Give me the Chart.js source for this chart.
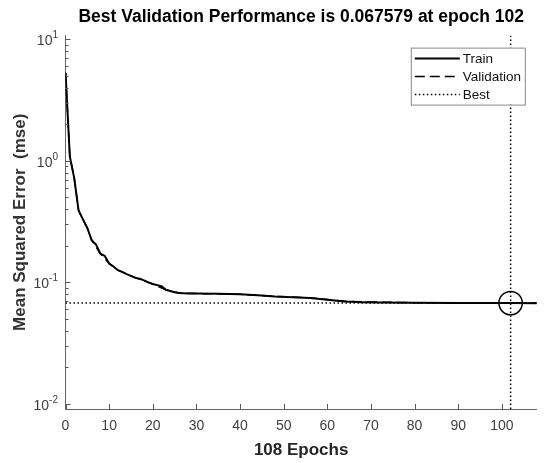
<!DOCTYPE html>
<html>
<head>
<meta charset="utf-8">
<script src="https://cdn.jsdelivr.net/npm/chart.js@4.4.0/dist/chart.umd.min.js"></script>
<style>
  html, body { margin: 0; padding: 0; background: #fff; }
  #wrap { width: 550px; height: 463px; }
</style>
</head>
<body>
<div id="wrap"><canvas id="perf"></canvas></div>
<script>
// values
const trainEpochs = [0, 1, 2, 3, 4, 5, 6, 7, 8, 9, 10, 11, 12, 13, 14, 15, 16, 17, 18, 19, 20,
    21, 22, 23, 24, 25, 26, 28, 30, 35, 40, 44, 48, 52, 56, 60, 64, 68, 72, 80, 90, 100, 102, 108];
const trainMse = [5.3, 1.08, 0.72, 0.39, 0.33, 0.28, 0.222, 0.205, 0.172, 0.165, 0.143, 0.135, 0.126,
    0.122, 0.117, 0.113, 0.109, 0.107, 0.104, 0.1, 0.097, 0.095, 0.093, 0.087, 0.085, 0.083, 0.0818,
    0.0812, 0.081, 0.0805, 0.0798, 0.0785, 0.0765, 0.0755, 0.0745, 0.072, 0.0697, 0.0688, 0.0683,
    0.0679, 0.0677, 0.0676, 0.06758, 0.0675];
const valEpochs = [0, 1, 2, 3, 4, 5, 6, 8, 10, 12, 15, 20, 23, 26, 30, 40, 48, 56, 60, 64, 70, 80,
    90, 100, 102, 108];
const valMse = [5.3, 1.08, 0.72, 0.39, 0.33, 0.28, 0.222, 0.172, 0.143, 0.126, 0.113, 0.097, 0.087,
    0.0818, 0.081, 0.0798, 0.0768, 0.0748, 0.0724, 0.0701, 0.069, 0.0681, 0.0679, 0.0677, 0.067579, 0.0677];
const bestEpoch = 102;
const bestMse = 0.067579;
const totalEpochs = 108;
const xTicks = [0, 10, 20, 30, 40, 50, 60, 70, 80, 90, 100];
const yTicks = [0.01, 0.1, 1, 10];
const yTickExp = ['-2', '-1', '0', '1'];
const yMin = 0.0091, yMax = 10.7;

const pts = (xs, ys) => xs.map((x, i) => ({ x, y: ys[i] }));
const FONT = 'Arial, "Liberation Sans", Helvetica, sans-serif';

// MATLAB-like inward ticks, minor log ticks and superscript labels
const matlabAxes = {
    id: 'matlabAxes',
    afterDatasetsDraw(chart) {
        const { ctx, chartArea } = chart;
        const xs = chart.scales.x, ys = chart.scales.y;
        ctx.save();
        ctx.strokeStyle = '#555';
        ctx.lineWidth = 1;
        ctx.beginPath();
        xTicks.forEach(v => {
            const px = Math.round(xs.getPixelForValue(v)) + 0.5;
            ctx.moveTo(px, chartArea.bottom);
            ctx.lineTo(px, chartArea.bottom - 5);
        });
        yTicks.forEach(v => {
            const py = Math.round(ys.getPixelForValue(v)) + 0.5;
            ctx.moveTo(chartArea.left, py);
            ctx.lineTo(chartArea.left + 5, py);
        });
        for (let d = -3; d <= 1; d++) {
            for (let m = 2; m <= 9; m++) {
                const v = m * Math.pow(10, d);
                if (v < yMin || v > yMax) continue;
                const py = Math.round(ys.getPixelForValue(v)) + 0.5;
                ctx.moveTo(chartArea.left, py);
                ctx.lineTo(chartArea.left + 3, py);
            }
        }
        ctx.stroke();

        ctx.fillStyle = '#404040';
        ctx.textAlign = 'right';
        ctx.textBaseline = 'middle';
        const right = chartArea.left - 7.5;
        yTicks.forEach((v, i) => {
            const py = ys.getPixelForValue(v);
            ctx.font = '10px ' + FONT;
            const ew = ctx.measureText(yTickExp[i]).width;
            ctx.fillText(yTickExp[i], right, py - 4);
            ctx.font = '14px ' + FONT;
            ctx.fillText('10', right - ew, py + 2);
        });
        ctx.restore();
    }
};

// boxed legend inside the axes, top right
const boxLegend = {
    id: 'boxLegend',
    afterDraw(chart) {
        const { ctx, chartArea } = chart;
        const items = chart.data.datasets.filter(d => d.inLegend);
        const w = 114, rowH = 18;
        const h = items.length * rowH + 3;
        const x0 = chartArea.right - w - 12, y0 = chartArea.top + 12;
        ctx.save();
        ctx.fillStyle = '#fff';
        ctx.fillRect(x0, y0, w, h);
        ctx.strokeStyle = '#888';
        ctx.lineWidth = 1;
        ctx.strokeRect(x0 + 0.5, y0 + 0.5, w, h);
        ctx.font = '13.5px ' + FONT;
        ctx.textBaseline = 'middle';
        ctx.textAlign = 'left';
        items.forEach((d, i) => {
            const cy = y0 + 11 + i * rowH;
            ctx.strokeStyle = d.borderColor;
            ctx.lineWidth = d.borderWidth;
            ctx.setLineDash(d.borderDash || []);
            ctx.beginPath();
            ctx.moveTo(x0 + 4, cy);
            ctx.lineTo(x0 + 49, cy);
            ctx.stroke();
            ctx.setLineDash([]);
            ctx.fillStyle = '#111';
            ctx.fillText(d.label, x0 + 52, cy + 1);
        });
        ctx.restore();
    }
};

new Chart(document.getElementById('perf'), {
    type: 'line',
    data: {
        datasets: [
            {
                label: 'Train',
                data: pts(trainEpochs, trainMse),
                borderColor: '#000',
                borderWidth: 2,
                pointRadius: 0,
                inLegend: true
            },
            {
                label: 'Validation',
                data: pts(valEpochs, valMse),
                borderColor: '#000',
                borderWidth: 1.5,
                borderDash: [10, 5],
                pointRadius: 0,
                inLegend: true
            },
            {
                label: 'Best',
                data: [{ x: 0, y: bestMse }, { x: totalEpochs, y: bestMse }],
                borderColor: '#000',
                borderWidth: 1.5,
                borderDash: [1.5, 2.5],
                pointRadius: 0,
                inLegend: true
            },
            {
                label: 'Best epoch',
                data: [{ x: bestEpoch, y: yMin }, { x: bestEpoch, y: yMax }],
                borderColor: '#000',
                borderWidth: 1.5,
                borderDash: [1.5, 2.5],
                pointRadius: 0
            },
            {
                label: 'Best point',
                data: [{ x: bestEpoch, y: bestMse }],
                showLine: false,
                pointRadius: 11.7,
                pointBorderWidth: 1.5,
                pointBorderColor: '#000',
                pointBackgroundColor: 'rgba(0,0,0,0)'
            }
        ]
    },
    options: {
        responsive: true,
        maintainAspectRatio: false,
        animation: false,
        events: [],
        layout: { padding: { left: 0, right: 10, top: 0, bottom: 0 } },
        scales: {
            x: {
                type: 'linear',
                min: 0,
                max: totalEpochs,
                afterBuildTicks: s => { s.ticks = xTicks.map(value => ({ value })); },
                afterFit: s => { s.height = 54; },
                grid: { drawOnChartArea: false, drawTicks: false },
                border: { color: '#666', width: 1 },
                ticks: {
                    padding: 8.5,
                    maxRotation: 0,
                    autoSkip: false,
                    color: '#404040',
                    font: { family: FONT, size: 14 }
                },
                title: {
                    display: true,
                    text: '108 Epochs',
                    color: '#262626',
                    padding: { top: 4, bottom: 2.8 },
                    font: { family: FONT, size: 17, weight: 'bold' }
                }
            },
            y: {
                type: 'logarithmic',
                min: yMin,
                max: yMax,
                afterBuildTicks: s => { s.ticks = yTicks.map(value => ({ value })); },
                afterFit: s => { s.width = 65.5; },
                grid: { drawOnChartArea: false, drawTicks: false },
                border: { color: '#666', width: 1 },
                ticks: { display: false },
                title: {
                    display: true,
                    text: 'Mean Squared Error  (mse)',
                    color: '#333',
                    padding: { top: 10, bottom: 0 },
                    font: { family: FONT, size: 17, weight: 'bold' }
                }
            }
        },
        plugins: {
            legend: { display: false },
            tooltip: { enabled: false },
            title: {
                display: true,
                fullSize: false,
                text: 'Best Validation Performance is 0.067579 at epoch 102',
                color: '#000',
                padding: { top: 6.8, bottom: 7.8 },
                font: { family: FONT, size: 17.5, weight: 'bold' }
            }
        }
    },
    plugins: [matlabAxes, boxLegend]
});
</script>
</body>
</html>
